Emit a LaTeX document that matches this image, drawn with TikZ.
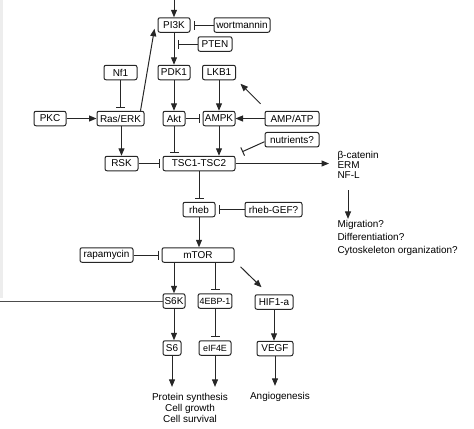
\documentclass[tikz,border=0pt]{standalone}
\usepackage{fontspec}
\setmainfont{Liberation Sans}
\usetikzlibrary{arrows.meta}

\begin{document}
\begin{tikzpicture}[x=1bp,y=-1bp,line width=1bp,
  prot/.style={draw=black!85,rounded corners=2bp,minimum height=14.5bp,inner xsep=1.5bp,inner ysep=0pt,font=\fontsize{10}{10}\selectfont},
  small/.style={font=\fontsize{9}{10}\selectfont},
  txt/.style={inner sep=0pt,font=\fontsize{10}{10}\selectfont},
  act/.style={draw=black!85,-{Triangle[length=7.5bp,width=6bp]}},
  inh/.style={draw=black!85,-{Bar[width=9bp]},shorten >=3bp}]
 \useasboundingbox (0,0) rectangle (474,428);
 \fill[black!7] (0,0) rectangle (2.5,298);
 \node[prot,minimum width=32bp] (pik) at (174,25) {PI3K};
 \node[prot,minimum width=56bp] (wort) at (242,25) {wortmannin};
 \node[prot,minimum width=34bp] (pten) at (215,44) {PTEN};
 \node[prot,minimum width=33bp] (nf) at (120.5,72.5) {Nf1};
 \node[prot,minimum width=32bp] (pdk) at (174,72.5) {PDK1};
 \node[prot,minimum width=33bp] (lkb) at (219,72.5) {LKB1};
 \node[prot,minimum width=32bp] (pkc) at (50,118.5) {PKC};
 \node[prot,minimum width=47bp] (ras) at (120.5,118.5) {Ras/ERK};
 \node[prot,minimum width=22bp] (akt) at (174,118.5) {Akt};
 \node[prot,minimum width=32bp] (ampk) at (219,118.5) {AMPK};
 \node[prot,minimum width=54bp] (amp) at (292,118.5) {AMP/ATP};
 \node[prot,minimum width=54bp] (nutr) at (292,139.7) {nutrients?};
 \node[prot,minimum width=33bp] (rsk) at (121.5,163.5) {RSK};
 \node[prot,minimum width=72bp] (tsc) at (199,163.5) {TSC1-TSC2};
 \node[prot,minimum width=32bp] (rheb) at (199,209.5) {rheb};
 \node[prot,minimum width=57bp] (gef) at (273.5,209.5) {rheb-GEF?};
 \node[prot,minimum width=72bp] (mtor) at (198,255) {mTOR};
 \node[prot,minimum width=53bp] (rapa) at (106.5,255) {rapamycin};
 \node[prot,minimum width=22bp] (s6k) at (174,301) {S6K};
 \node[prot,small,minimum width=33bp] (ebp) at (215,301) {4EBP-1};
 \node[prot,minimum width=38bp] (hif) at (274,302) {HIF1-a};
 \node[prot,minimum width=18bp] (s6) at (172,348) {S6};
 \node[prot,small,minimum width=32bp] (eif) at (215,348) {eIF4E};
 \node[prot,minimum width=36bp] (vegf) at (275,348.5) {VEGF};
 \node[txt,anchor=west,align=left] (beta) at (337,165) {β-catenin\\ERM\\NF-L};
 \node[txt,anchor=west,align=left,font=\fontsize{10}{13}\selectfont] (mig) at (337,238) {Migration?\\Differentiation?\\Cytoskeleton organization?};
 \node[txt,align=center,font=\fontsize{10}{11}\selectfont] (prot) at (190,408) {Protein synthesis\\Cell growth\\Cell survival};
 \node[txt] (angio) at (280,397) {Angiogenesis};
 \coordinate (top) at (174,0);
 \coordinate (lft) at (0,301);

 \draw[act] (top) -- (pik);
 \draw[act] (pik) -- (pdk);
 \draw[inh] (wort) -- (pik);
 \draw[inh,shorten >=0pt] (pten.west) -- ++(-20,0);
 \draw[act] ([xshift=-4bp]ras.north east) -- ([xshift=-3bp,yshift=4bp]pik.south west);
 \draw[inh] (nf) -- (ras);
 \draw[act] (pkc) -- (ras);
 \draw[act] (pdk) -- (pdk |- akt.north);
 \draw[act] (lkb) -- (ampk);
 \draw[inh] (akt) -- (ampk);
 \draw[act] (amp) -- (ampk);
 \draw[act] ([xshift=-4bp,yshift=7bp]amp.north west) -- ([xshift=4.5bp,yshift=-3.5bp]lkb.south east);
 \draw[inh,shorten >=0pt] ([yshift=-2bp]nutr.west) -- ([xshift=6.7bp,yshift=4bp]tsc.north east);
 \draw[act] (rsk |- ras.south) -- (rsk);
 \draw[inh] (akt) -- (akt |- tsc.north);
 \draw[act] (ampk) -- (ampk |- tsc.north);
 \draw[inh] (rsk) -- (tsc);
 \draw[act,shorten >=8bp] (tsc.east) -- (tsc.east -| beta.west);
 \draw[act,shorten <=11bp,shorten >=1bp] ([xshift=11bp]beta.south west) -- ([xshift=11bp]mig.north west);
 \draw[inh] (tsc) -- (tsc |- rheb.north);
 \draw[inh] (gef) -- (rheb);
 \draw[act] (rheb) -- (rheb |- mtor.north);
 \draw[inh] (rapa) -- (mtor);
 \draw[act] (s6k |- mtor.south) -- (s6k);
 \draw[inh] (ebp |- mtor.south) -- (ebp);
 \draw[act] ([xshift=6bp,yshift=-4bp]mtor.south east) -- ([xshift=7bp,yshift=7bp]hif.north west);
 \draw[draw=black!70] (lft) -- (s6k.west);
 \draw[act] (s6k) -- (s6k |- s6.north);
 \draw[inh] (ebp) -- (eif);
 \draw[act] (hif) -- (hif |- vegf.north);
 \draw[act,shorten >=6bp] (s6) -- (s6 |- prot.north);
 \draw[act,shorten >=6bp] (eif) -- (eif |- prot.north);
 \draw[act,shorten >=6bp] (vegf) -- (vegf |- angio.north);
\end{tikzpicture}
\end{document}
